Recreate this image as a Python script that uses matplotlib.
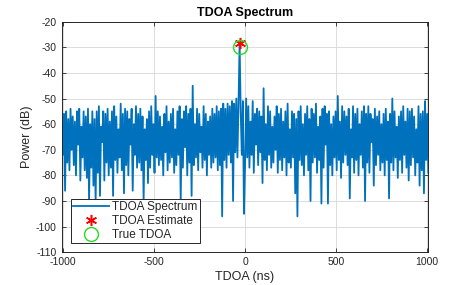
import numpy as np
import matplotlib
matplotlib.use("Agg")
import matplotlib.pyplot as plt

plt.rcParams['font.family'] = ['Liberation Sans', 'DejaVu Sans']
plt.rcParams['axes.unicode_minus'] = False

# TDOA spectrum samples (dB), 6 ns spacing from -1008 ns to 1008 ns
power_db = [
    -60, -72, -56, -86, -55, -75, -58, -78, -54, -70,
    -57, -76, -59, -80, -55, -68, -54, -82, -61, -73,
    -55, -78, -57, -81, -54, -90, -60, -77, -55, -84,
    -58, -91, -55, -79, -53, -88, -61, -67, -55, -82,
    -56, -75, -54, -80, -59, -77, -55, -88, -53, -74,
    -57, -79, -62, -73, -52, -78, -56, -87, -54, -76,
    -55, -80, -58, -68, -54, -86, -60, -72, -53, -77,
    -56, -75, -54, -78, -57, -90, -62, -74, -58, -83,
    -55, -77, -53, -72, -60, -79, -49, -73, -55, -76,
    -57, -74, -61, -80, -56, -71, -53, -78, -59, -75,
    -56, -73, -54, -79, -62, -76, -55, -72, -53, -90,
    -58, -77, -55, -69, -53, -80, -56, -75, -54, -88,
    -45, -76, -60, -73, -54, -78, -56, -71, -61, -77,
    -53, -74, -56, -80, -59, -72, -57, -77, -54, -75,
    -56, -73, -53, -78, -55, -76, -54, -96, -52, -74,
    -54, -77, -52, -72, -53, -75, -51, -90, -52, -71,
    -50, -73, -52, -28.5, -55, -72, -51, -95, -76, -50,
    -73, -53, -77, -59, -72, -51, -79, -56, -68, -54,
    -76, -55, -71, -57, -83, -46, -74, -60, -78, -53,
    -72, -55, -77, -61, -75, -57, -70, -53, -79, -56,
    -74, -54, -78, -59, -73, -55, -80, -52, -75, -62,
    -77, -55, -73, -56, -87, -58, -96, -55, -74, -53,
    -76, -60, -80, -56, -72, -53, -78, -58, -90, -54,
    -75, -56, -73, -52, -79, -61, -74, -57, -91, -54,
    -77, -53, -68, -56, -91, -55, -76, -60, -80, -57,
    -73, -55, -78, -49, -74, -59, -81, -53, -75, -55,
    -72, -57, -76, -54, -89, -62, -73, -53, -79, -56,
    -74, -54, -80, -60, -72, -55, -77, -53, -90, -56,
    -75, -53, -79, -56, -67, -58, -84, -54, -76, -57,
    -72, -55, -78, -60, -75, -56, -80, -54, -74, -59,
    -89, -56, -75, -50, -78, -55, -73, -61, -81, -57,
    -74, -55, -79, -53, -72, -59, -77, -54, -82, -55,
    -76, -54, -73, -57, -80, -62, -75, -53, -84, -56,
    -78, -55, -87, -51, -74, -56, -79,
]
tdoa_start_ns = -1008
tdoa_step_ns = 6
tdoa_ns = tdoa_start_ns + tdoa_step_ns * np.arange(len(power_db))

est_tdoa_ns = -30
est_power_db = -28.5
true_tdoa_ns = -30
true_power_db = -30

fig = plt.figure(figsize=(4.74, 2.85), dpi=100)
ax = fig.add_axes([0.130, 0.115, 0.774, 0.809])

txt = '#262626'
ax.plot(tdoa_ns, power_db, color='#0072BD', lw=1.3, label='TDOA Spectrum')
ax.plot([est_tdoa_ns], [est_power_db], linestyle='none', marker=(6, 2, 0), color='red',
        markersize=8, markeredgewidth=1.1, label='TDOA Estimate')
ax.plot([true_tdoa_ns], [true_power_db], linestyle='none', marker='o', markerfacecolor='none',
        markeredgecolor='#22dd22', markersize=10, markeredgewidth=1.0, label='True TDOA')

ax.set_xlim(-1009, 1009)
ax.set_ylim(-110, -20)
ax.set_xticks([-1000, -500, 0, 500, 1000])
ax.set_yticks(np.arange(-110, -19, 10))
ax.grid(True, color='#dcdcdc', lw=0.7)
ax.set_axisbelow(True)
ax.tick_params(direction='in', top=True, right=True, length=3, width=0.6,
               labelsize=7.5, colors=txt, labelcolor=txt)
for s in ax.spines.values():
    s.set_color(txt)
    s.set_linewidth(0.7)

ax.set_xlabel('TDOA (ns)', fontsize=9, color=txt, labelpad=3)
ax.set_ylabel('Power (dB)', fontsize=9, color=txt, labelpad=2)
ax.set_title('TDOA Spectrum', fontsize=9, fontweight='bold', color='black', pad=4)

leg = ax.legend(loc='lower left', bbox_to_anchor=(0.025, 0.04), borderaxespad=0,
                fontsize=8.5, fancybox=False, framealpha=1, edgecolor=txt,
                handlelength=3.0, labelspacing=0.15, borderpad=0.2, handletextpad=0.3)
leg.get_frame().set_linewidth(0.7)
for t in leg.get_texts():
    t.set_color(txt)

fig.savefig('out.png', dpi=100)
